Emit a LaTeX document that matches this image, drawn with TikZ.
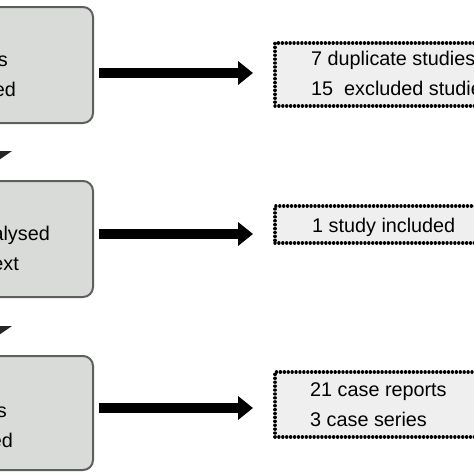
\documentclass[tikz,border=0pt]{standalone}
\usepackage{fontspec}
\setmainfont{Liberation Sans}
\usetikzlibrary{arrows.meta}
\definecolor{lboxfill}{HTML}{D9DBD9}
\definecolor{lboxdraw}{HTML}{5E5E5E}
\definecolor{rboxfill}{HTML}{EFEFEF}
\tikzset{
  lbox/.style={draw=lboxdraw, fill=lboxfill, line width=2pt, rounded corners=10pt, rectangle, minimum width=160pt, inner sep=0pt},
  rbox/.style={draw=black, fill=rboxfill, line width=3.4pt, line cap=round, dash pattern=on 0.01pt off 3.9pt, rectangle, minimum width=240pt, inner sep=0pt},
  txt/.style={font=\fontsize{19.8pt}{23pt}\selectfont, inner sep=0pt},
  bigarrow/.style={line width=10.5pt, black, line cap=butt, -{Triangle[width=23pt,length=15pt]}},
  downhead/.style={fill=black!85}
}
\begin{document}
\begin{tikzpicture}[x=1pt,y=-1pt]
\useasboundingbox (0,0) rectangle (474,474);
\fill[white] (0,0) rectangle (474,474);
% left boxes
\node[lbox, minimum height=116pt] (b1) at (13,65) {};
\node[lbox, minimum height=116pt] (b2) at (13,239) {};
\node[lbox, minimum height=114pt] (b3) at (13,413) {};
% right boxes
\node[rbox, minimum height=63pt] (r1) at (395,74.5) {};
\node[rbox, minimum height=37pt] (r2) at (395,224.5) {};
\node[rbox, minimum height=65pt] (r3) at (395,404.5) {};
% left texts
\node[txt, anchor=base east] (t1a) at (8,66) {s};
\node[txt, anchor=base east] (t1b) at (16,96) {ed};
\node[txt, anchor=base east] (t2a) at (50,240) {alysed};
\node[txt, anchor=base east] (t2b) at (19,270) {ext};
\node[txt, anchor=base east] (t3a) at (7,417) {s};
\node[txt, anchor=base east] (t3b) at (13,447) {ed};
% right texts
\node[txt, anchor=base west] (u1a) at (311,65) {7 duplicate studies};
\node[txt, anchor=base west] (u1b) at (311,95) {15\ \ excluded studies};
\node[txt, anchor=base west] (u2a) at (312,232) {1 study included};
\node[txt, anchor=base west] (u3a) at (310,396) {21 case reports};
\node[txt, anchor=base west] (u3b) at (310,426) {3 case series};
% arrows
\coordinate (a1s) at (99,73);  \coordinate (a1e) at (253,73);
\coordinate (a2s) at (99,234); \coordinate (a2e) at (253,234);
\coordinate (a3s) at (99,408); \coordinate (a3e) at (253,408);
\draw[bigarrow] (a1s) -- (a1e);
\draw[bigarrow] (a2s) -- (a2e);
\draw[bigarrow] (a3s) -- (a3e);
% down arrow heads (arrows mostly outside the frame)
\fill[downhead] (12,151) -- (-20,151) -- (-4,162) -- cycle;
\fill[downhead] (12,326) -- (-20,326) -- (-4,337) -- cycle;
\end{tikzpicture}
\end{document}
